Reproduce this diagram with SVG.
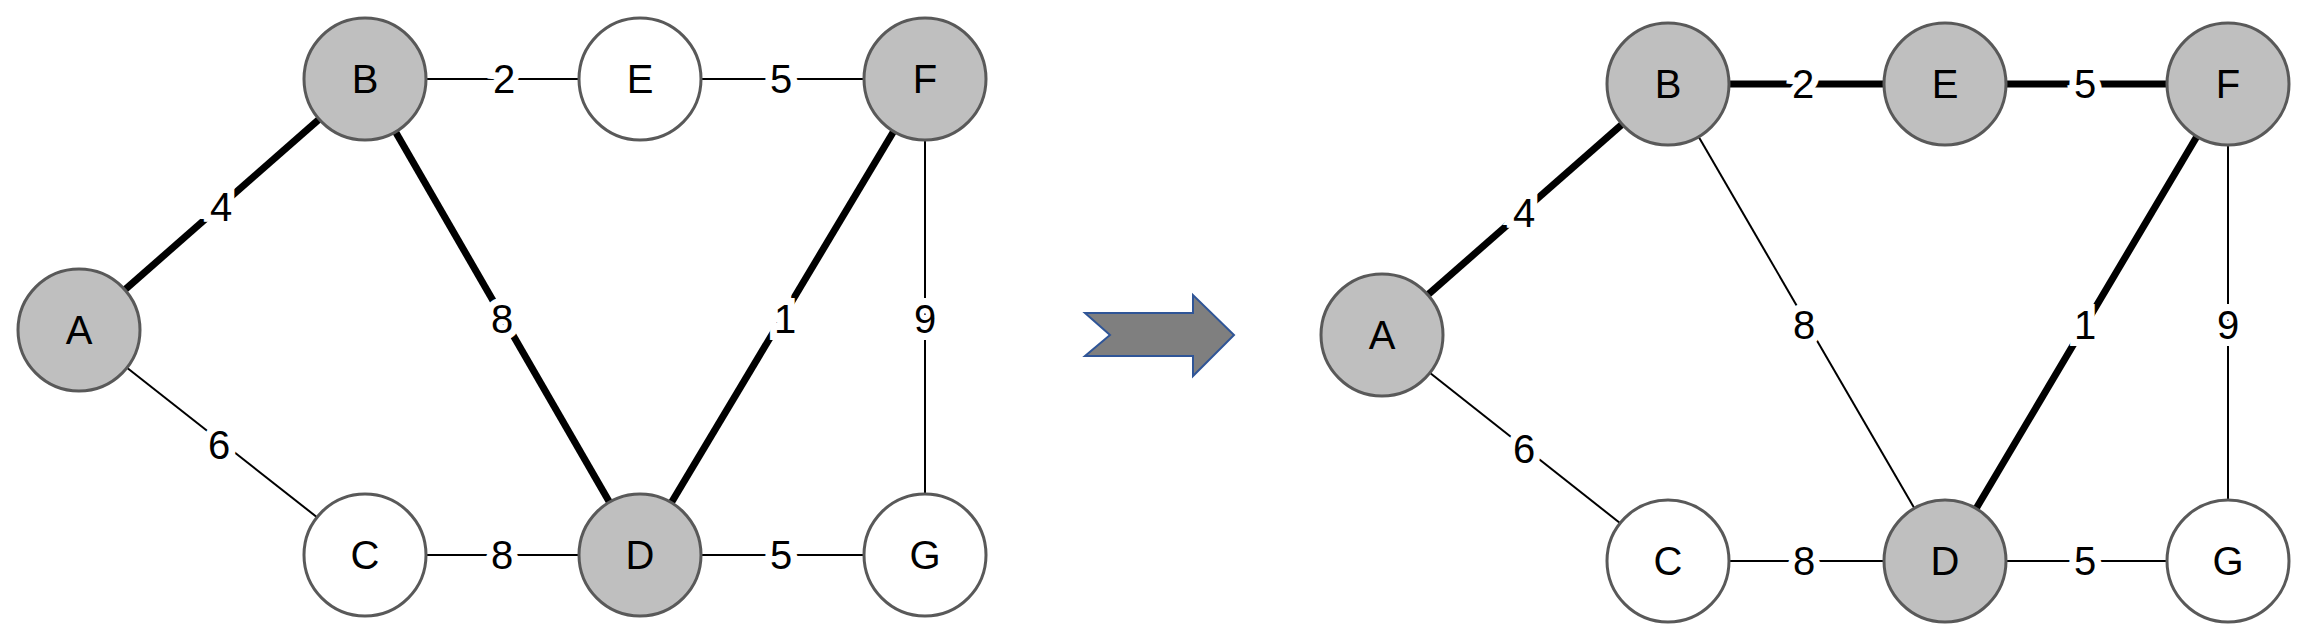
<svg xmlns="http://www.w3.org/2000/svg" width="2306" height="633" viewBox="0 0 2306 633">
<style>
.e{stroke:#000;stroke-width:2;fill:none}
.t{stroke:#000;stroke-width:7;fill:none}
.n circle{stroke:#595959;stroke-width:3}
.g{fill:#bfbfbf}.w{fill:#fff}
text{font-family:"Liberation Sans",Arial,sans-serif;font-size:40px;text-anchor:middle;dominant-baseline:central;fill:#000}
.l{stroke:#fff;stroke-width:14;paint-order:stroke}
</style>
<rect width="2306" height="633" fill="#fff"/>
<g id="connectors">
<line class="t" x1="79" y1="330" x2="365" y2="79"/>
<line class="e" x1="365" y1="79" x2="640" y2="79"/>
<line class="e" x1="640" y1="79" x2="925" y2="79"/>
<line class="t" x1="365" y1="79" x2="640" y2="555"/>
<line class="t" x1="925" y1="79" x2="640" y2="555"/>
<line class="e" x1="925" y1="79" x2="925" y2="555"/>
<line class="e" x1="79" y1="330" x2="365" y2="555"/>
<line class="e" x1="365" y1="555" x2="640" y2="555"/>
<line class="e" x1="640" y1="555" x2="925" y2="555"/>
<line class="t" x1="1382" y1="335" x2="1668" y2="84"/>
<line class="t" x1="1668" y1="84" x2="1945" y2="84"/>
<line class="t" x1="1945" y1="84" x2="2228" y2="84"/>
<line class="e" x1="1668" y1="84" x2="1945" y2="561"/>
<line class="t" x1="2228" y1="84" x2="1945" y2="561"/>
<line class="e" x1="2228" y1="84" x2="2228" y2="561"/>
<line class="e" x1="1382" y1="335" x2="1668" y2="561"/>
<line class="e" x1="1668" y1="561" x2="1945" y2="561"/>
<line class="e" x1="1945" y1="561" x2="2228" y2="561"/>
<g>
<text class="l" x="504" y="79">2</text><text class="l" x="781" y="79">5</text>
<text class="l" x="221" y="207">4</text><text class="l" x="502" y="319">8</text>
<text class="l" x="785" y="319">1</text><text class="l" x="925" y="319">9</text>
<text class="l" x="219" y="445">6</text><text class="l" x="502" y="555">8</text>
<text class="l" x="781" y="555">5</text>
<text class="l" x="1803" y="84">2</text><text class="l" x="2085" y="84">5</text>
<text class="l" x="1524" y="213">4</text><text class="l" x="1804" y="325">8</text>
<text class="l" x="2085" y="325">1</text><text class="l" x="2228" y="325">9</text>
<text class="l" x="1524" y="449">6</text><text class="l" x="1804" y="561">8</text>
<text class="l" x="2085" y="561">5</text>
</g>
</g>
<g class="n">
<g id="A1"><circle class="g" cx="79" cy="330" r="61"/><text x="79" y="330">A</text></g>
<g id="B1"><circle class="g" cx="365" cy="79" r="61"/><text x="365" y="79">B</text></g>
<g id="E1"><circle class="w" cx="640" cy="79" r="61"/><text x="640" y="79">E</text></g>
<g id="F1"><circle class="g" cx="925" cy="79" r="61"/><text x="925" y="79">F</text></g>
<g id="C1"><circle class="w" cx="365" cy="555" r="61"/><text x="365" y="555">C</text></g>
<g id="D1"><circle class="g" cx="640" cy="555" r="61"/><text x="640" y="555">D</text></g>
<g id="G1"><circle class="w" cx="925" cy="555" r="61"/><text x="925" y="555">G</text></g>
<g id="A2"><circle class="g" cx="1382" cy="335" r="61"/><text x="1382" y="335">A</text></g>
<g id="B2"><circle class="g" cx="1668" cy="84" r="61"/><text x="1668" y="84">B</text></g>
<g id="E2"><circle class="g" cx="1945" cy="84" r="61"/><text x="1945" y="84">E</text></g>
<g id="F2"><circle class="g" cx="2228" cy="84" r="61"/><text x="2228" y="84">F</text></g>
<g id="C2"><circle class="w" cx="1668" cy="561" r="61"/><text x="1668" y="561">C</text></g>
<g id="D2"><circle class="g" cx="1945" cy="561" r="61"/><text x="1945" y="561">D</text></g>
<g id="G2"><circle class="w" cx="2228" cy="561" r="61"/><text x="2228" y="561">G</text></g>
</g>
<g id="arrow"><polygon points="1085,313 1193,313 1193,295 1234,335 1193,376 1193,356 1085,356 1110,335" fill="#7f7f7f" stroke="#2f5597" stroke-width="2"/></g>
</svg>
